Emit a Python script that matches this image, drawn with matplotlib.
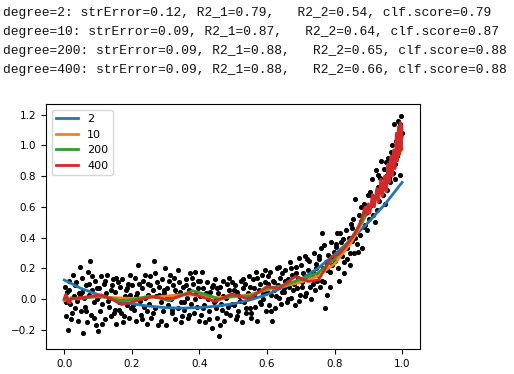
import numpy as np
import matplotlib
matplotlib.use("Agg")
import matplotlib.pyplot as plt

# printed scores above the chart
score_lines = [
    "degree=2: strError=0.12, R2_1=0.79,   R2_2=0.54, clf.score=0.79",
    "degree=10: strError=0.09, R2_1=0.87,   R2_2=0.64, clf.score=0.87",
    "degree=200: strError=0.09, R2_1=0.88,   R2_2=0.65, clf.score=0.88",
    "degree=400: strError=0.09, R2_1=0.88,   R2_2=0.66, clf.score=0.88",
]

# scatter points (bins of 0.05)
x_pts = [
    0.002, 0.005, 0.008, 0.012, 0.015, 0.018, 0.022, 0.026, 0.029, 0.033, 0.036, 0.040, 0.043, 0.046, 0.049,
    0.052, 0.055, 0.058, 0.061, 0.064, 0.068, 0.071, 0.074, 0.077, 0.080, 0.083, 0.087, 0.090, 0.094, 0.098,
    0.101, 0.104, 0.107, 0.110, 0.113, 0.117, 0.120, 0.124, 0.127, 0.131, 0.135, 0.138, 0.142, 0.145, 0.149,
    0.151, 0.154, 0.158, 0.161, 0.165, 0.168, 0.172, 0.175, 0.179, 0.182, 0.186, 0.189, 0.193, 0.196, 0.199,
    0.202, 0.205, 0.209, 0.212, 0.216, 0.219, 0.223, 0.226, 0.230, 0.233, 0.237, 0.240, 0.244, 0.247, 0.249,
    0.252, 0.255, 0.258, 0.262, 0.265, 0.268, 0.271, 0.275, 0.278, 0.281, 0.285, 0.288, 0.292, 0.295, 0.298,
    0.301, 0.304, 0.308, 0.311, 0.315, 0.318, 0.322, 0.325, 0.329, 0.332, 0.336, 0.339, 0.343, 0.346, 0.349,
    0.352, 0.355, 0.359, 0.362, 0.366, 0.369, 0.373, 0.376, 0.380, 0.383, 0.387, 0.390, 0.394, 0.397, 0.399,
    0.402, 0.405, 0.408, 0.412, 0.415, 0.418, 0.422, 0.425, 0.429, 0.432, 0.436, 0.439, 0.443, 0.446, 0.449,
    0.451, 0.454, 0.457, 0.461, 0.464, 0.467, 0.471, 0.474, 0.478, 0.481, 0.485, 0.488, 0.492, 0.495, 0.498,
    0.501, 0.504, 0.508, 0.511, 0.515, 0.518, 0.522, 0.525, 0.529, 0.532, 0.536, 0.539, 0.543, 0.546, 0.549,
    0.551, 0.554, 0.558, 0.561, 0.565, 0.568, 0.572, 0.575, 0.579, 0.582, 0.586, 0.589, 0.593, 0.596, 0.599,
    0.602, 0.605, 0.608, 0.612, 0.615, 0.618, 0.622, 0.625, 0.629, 0.632, 0.636, 0.639, 0.643, 0.646, 0.649,
    0.651, 0.654, 0.658, 0.661, 0.665, 0.668, 0.672, 0.675, 0.679, 0.682, 0.686, 0.689, 0.693, 0.696, 0.699,
    0.702, 0.705, 0.708, 0.712, 0.715, 0.718, 0.722, 0.725, 0.729, 0.732, 0.736, 0.739, 0.743, 0.746, 0.749,
    0.751, 0.754, 0.758, 0.761, 0.763, 0.765, 0.768, 0.771, 0.775, 0.779, 0.782, 0.786, 0.789, 0.793, 0.797,
    0.801, 0.804, 0.807, 0.810, 0.814, 0.817, 0.821, 0.824, 0.828, 0.831, 0.835, 0.838, 0.842, 0.845, 0.849,
    0.851, 0.854, 0.857, 0.861, 0.864, 0.868, 0.871, 0.875, 0.878, 0.882, 0.886, 0.889, 0.893, 0.896, 0.899,
    0.901, 0.904, 0.908, 0.911, 0.915, 0.918, 0.922, 0.925, 0.929, 0.932, 0.936, 0.939, 0.943, 0.946, 0.949,
    0.951, 0.954, 0.958, 0.961, 0.965, 0.968, 0.972, 0.975, 0.979, 0.982, 0.986, 0.989, 0.993, 0.996, 0.999,
    # second pass of points
    0.004, 0.013, 0.021, 0.031, 0.038, 0.047,
    0.054, 0.063, 0.072, 0.081, 0.088, 0.096,
    0.103, 0.112, 0.121, 0.129, 0.137, 0.146,
    0.153, 0.162, 0.170, 0.178, 0.187, 0.195,
    0.204, 0.213, 0.221, 0.229, 0.238, 0.246,
    0.254, 0.263, 0.270, 0.279, 0.287, 0.296,
    0.303, 0.312, 0.320, 0.328, 0.337, 0.345,
    0.353, 0.361, 0.370, 0.378, 0.386, 0.395,
    0.403, 0.411, 0.420, 0.428, 0.437, 0.445,
    0.453, 0.462, 0.470, 0.479, 0.487, 0.496,
    0.503, 0.512, 0.520, 0.528, 0.537, 0.545,
    0.553, 0.562, 0.570, 0.578, 0.587, 0.595,
    0.603, 0.612, 0.620, 0.628, 0.637, 0.645,
    0.653, 0.662, 0.670, 0.678, 0.687, 0.695,
    0.703, 0.712, 0.720, 0.728, 0.737, 0.745,
    0.753, 0.762, 0.770, 0.778, 0.787, 0.795,
    0.803, 0.812, 0.820, 0.828, 0.837, 0.845,
    0.853, 0.862, 0.870, 0.878, 0.887, 0.895,
    0.903, 0.912, 0.920, 0.928, 0.937, 0.945,
    0.953, 0.962, 0.970, 0.978, 0.987, 0.995,
]
y_pts = [
    0.08, -0.11, 0.05, -0.20, 0.12, -0.03, -0.09, 0.16, 0.02, -0.06, 0.11, -0.14, 0.04, 0.21, -0.08,
    0.14, -0.22, 0.01, -0.05, 0.09, -0.15, 0.18, 0.03, 0.25, -0.10, 0.06, -0.02, 0.12, -0.17, 0.00,
    -0.21, 0.07, -0.08, 0.15, -0.03, 0.10, -0.13, 0.04, 0.16, -0.05, 0.01, -0.11, 0.09, 0.13, -0.07,
    0.05, -0.16, 0.11, -0.02, 0.08, -0.09, 0.13, -0.15, 0.02, 0.06, -0.04, 0.10, -0.12, 0.03, -0.06,
    0.09, -0.07, 0.14, -0.14, 0.04, 0.22, -0.01, -0.10, 0.07, 0.12, -0.05, 0.01, -0.16, 0.10, 0.03,
    -0.03, 0.15, -0.12, 0.06, 0.25, -0.06, 0.02, 0.11, -0.17, 0.08, -0.02, 0.13, -0.08, 0.04, 0.20,
    -0.17, 0.07, -0.04, 0.12, 0.00, -0.09, 0.09, 0.14, -0.13, 0.03, -0.06, 0.11, 0.05, -0.02, -0.11,
    0.08, -0.07, 0.13, 0.01, -0.12, 0.06, 0.17, -0.03, 0.10, -0.09, 0.18, 0.04, -0.05, 0.12, -0.14,
    0.02, -0.10, 0.18, 0.07, -0.04, -0.15, 0.11, 0.00, -0.08, 0.05, -0.19, 0.09, -0.02, 0.13, -0.06,
    -0.12, 0.04, -0.24, 0.08, -0.03, -0.07, 0.12, -0.14, 0.01, 0.10, -0.05, 0.06, -0.10, 0.03, 0.11,
    -0.04, 0.09, -0.13, 0.05, -0.08, 0.02, 0.12, -0.15, 0.07, -0.02, 0.10, -0.09, 0.04, 0.15, -0.06,
    0.08, -0.12, 0.13, 0.02, -0.05, 0.18, -0.14, 0.06, 0.10, -0.03, 0.16, 0.00, 0.11, -0.08, 0.05,
    0.10, -0.04, 0.18, 0.03, -0.14, 0.12, 0.06, -0.06, 0.20, 0.09, 0.01, 0.14, -0.03, 0.17, 0.07,
    0.05, 0.19, -0.02, 0.13, 0.08, 0.24, 0.01, 0.16, 0.10, -0.04, 0.21, 0.07, 0.14, 0.27, 0.03,
    0.22, 0.08, 0.17, 0.28, 0.04, 0.13, 0.19, 0.25, 0.00, 0.15, 0.10, 0.30, 0.06, 0.20, 0.12,
    0.16, 0.26, 0.08, 0.33, 0.43, 0.20, 0.11, -0.06, 0.24, 0.03, 0.29, 0.18, 0.37, 0.22, 0.31,
    0.25, 0.36, 0.43, 0.20, 0.31, 0.43, 0.28, 0.39, 0.17, 0.33, 0.45, 0.26, 0.40, 0.30, 0.49,
    0.38, 0.52, 0.30, 0.65, 0.44, 0.36, 0.55, 0.42, 0.60, 0.33, 0.62, 0.48, 0.56, 0.45, 0.68,
    0.52, 0.70, 0.61, 0.78, 0.55, 0.66, 0.84, 0.58, 0.73, 0.64, 0.79, 0.90, 0.68, 0.75, 0.62,
    0.80, 0.71, 0.92, 0.85, 0.76, 0.96, 0.82, 1.14, 0.88, 1.03, 0.93, 1.16, 0.81, 1.19, 1.08,
    # second pass of points
    -0.02, 0.06, -0.13, 0.09, -0.01, 0.03,
    0.05, -0.08, 0.10, 0.15, -0.12, 0.07,
    0.02, -0.16, 0.12, -0.01, 0.06, -0.09,
    0.14, -0.07, 0.00, -0.11, 0.07, 0.16,
    -0.04, 0.02, 0.10, -0.13, 0.16, -0.08,
    0.09, -0.09, 0.17, 0.03, -0.14, 0.06,
    0.01, 0.16, -0.07, 0.06, 0.19, -0.15,
    -0.02, 0.09, -0.10, 0.14, 0.00, 0.07,
    0.12, -0.06, 0.04, -0.13, 0.08, -0.01,
    0.07, -0.17, 0.02, -0.09, 0.14, -0.03,
    0.06, -0.11, -0.01, 0.13, -0.06, 0.03,
    -0.09, 0.07, 0.14, -0.02, 0.04, 0.19,
    0.15, -0.08, 0.11, 0.02, 0.21, 0.05,
    0.12, 0.00, 0.20, 0.06, 0.17, -0.01,
    0.11, 0.02, 0.26, 0.08, 0.18, 0.23,
    0.28, 0.12, 0.35, 0.19, 0.08, 0.26,
    0.34, 0.12, 0.37, 0.24, 0.33, 0.22,
    0.46, 0.40, 0.31, 0.51, 0.47, 0.57,
    0.60, 0.67, 0.50, 0.81, 0.71, 0.85,
    0.89, 0.79, 1.00, 0.78, 0.97, 1.14,
]

# fitted curves, one per degree
degrees = ["2", "10", "200", "400"]

x_deg2 = [0.0, 0.05, 0.1, 0.15, 0.2, 0.25, 0.3, 0.35, 0.4, 0.45, 0.5,
          0.55, 0.6, 0.65, 0.7, 0.75, 0.8, 0.85, 0.9, 0.95, 1.0]
y_deg2 = [0.125, 0.07, 0.03, -0.005, -0.03, -0.045, -0.055, -0.058, -0.055, -0.045, -0.03,
          -0.005, 0.03, 0.08, 0.13, 0.2, 0.29, 0.39, 0.5, 0.62, 0.76]

x_deg10 = [0.0, 0.01, 0.03, 0.06, 0.1, 0.15, 0.2, 0.25, 0.3, 0.35, 0.4, 0.45, 0.5,
           0.55, 0.6, 0.65, 0.7, 0.75, 0.8, 0.85, 0.88, 0.9, 0.93, 0.96, 0.98, 1.0]
y_deg10 = [-0.01, 0.0, 0.005, 0.01, 0.015, 0.01, 0.005, 0.01, 0.02, 0.03, 0.025, 0.01, 0.015,
           0.03, 0.06, 0.085, 0.11, 0.15, 0.23, 0.37, 0.49, 0.57, 0.7, 0.82, 0.9, 0.98]

x_deg200 = [0.0, 0.005, 0.012, 0.02, 0.04, 0.07, 0.1, 0.13, 0.17, 0.21, 0.25, 0.28, 0.31,
            0.34, 0.38, 0.42, 0.46, 0.5, 0.55, 0.6, 0.65, 0.7, 0.75, 0.8, 0.85, 0.88,
            0.9, 0.92, 0.94, 0.96, 0.98, 0.99, 1.0]
y_deg200 = [0.0, 0.03, -0.02, 0.01, 0.0, 0.01, 0.02, 0.01, -0.01, 0.0, 0.02, 0.01, -0.01,
            0.02, 0.055, 0.03, 0.0, 0.02, 0.02, 0.07, 0.09, 0.13, 0.17, 0.26, 0.4, 0.5,
            0.58, 0.66, 0.7, 0.8, 0.9, 0.98, 1.05]

x_deg400 = [0.0, 0.004, 0.008, 0.012, 0.016, 0.02, 0.03, 0.05, 0.08, 0.11, 0.14, 0.17, 0.2,
            0.23, 0.26, 0.3, 0.33, 0.37, 0.4, 0.447, 0.496, 0.546, 0.6, 0.635, 0.684,
            0.723, 0.753, 0.793, 0.812, 0.832, 0.862, 0.88, 0.89, 0.895, 0.90, 0.905,
            0.912, 0.918, 0.925, 0.93, 0.937, 0.942, 0.948, 0.953, 0.958, 0.962,
            0.967, 0.971, 0.975, 0.979, 0.983, 0.986, 0.989, 0.992, 0.995, 0.997,
            0.999, 1.0]
y_deg400 = [0.0, 0.03, 0.02, -0.02, -0.025, 0.0, 0.005, 0.01, 0.02, 0.028, 0.0, -0.035, -0.02,
            0.0, 0.017, 0.0, 0.01, 0.04, 0.02, -0.015, 0.035, 0.0, 0.083, 0.07, 0.148,
            0.115, 0.126, 0.278, 0.29, 0.34, 0.43, 0.52, 0.60, 0.55, 0.62, 0.56,
            0.68, 0.60, 0.72, 0.63, 0.78, 0.67, 0.80, 0.70, 0.88, 0.76,
            0.93, 0.80, 0.97, 0.85, 1.08, 0.90, 1.12, 0.94, 1.15, 0.97,
            1.13, 1.06]

fig = plt.figure(figsize=(5.14, 3.74), dpi=100)

for i, line in enumerate(score_lines):
    fig.text(0.006, 1 - (13 + 19 * i) / 374, line, family="Liberation Mono",
             fontsize=9.3, va="center", ha="left", color="#111111")

ax = fig.add_axes([46 / 514, 1 - 349 / 374, 374 / 514, (349 - 104) / 374])
ax.scatter(x_pts, y_pts, s=7, color="k", zorder=1)

curves = [(x_deg2, y_deg2), (x_deg10, y_deg10), (x_deg200, y_deg200), (x_deg400, y_deg400)]
colors = ["tab:blue", "tab:orange", "tab:green", "tab:red"]
for (cx, cy), c, lab in zip(curves, colors, degrees):
    ax.plot(cx, cy, color=c, lw=2, label=lab, zorder=2)

ax.set_xlim(-0.054, 1.053)
ax.set_ylim(-0.324, 1.27)
ax.set_xticks(np.arange(0, 1.01, 0.2))
ax.set_yticks(np.arange(-0.2, 1.21, 0.2))
ax.tick_params(labelsize=7.5)
ax.legend(loc="upper left", fontsize=8)

plt.savefig("out.png", dpi=100)
